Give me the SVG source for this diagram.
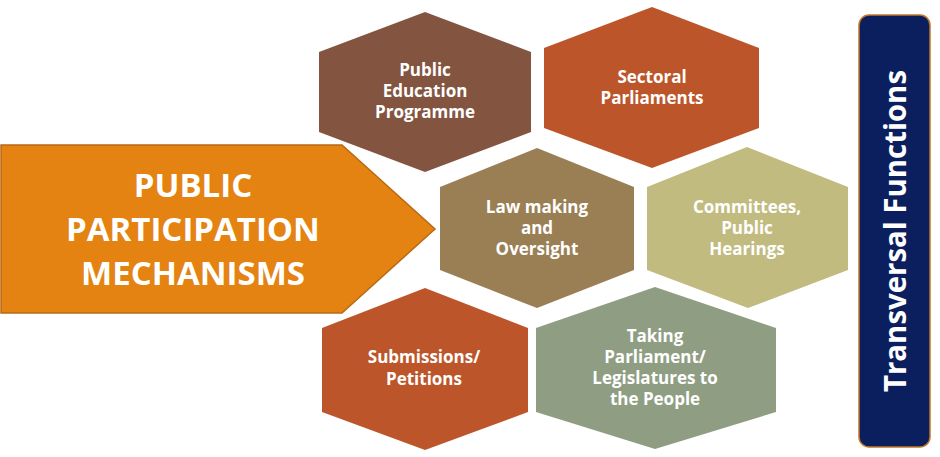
<svg xmlns="http://www.w3.org/2000/svg" width="940" height="457" viewBox="0 0 940 457">
<style>
.hex{stroke:none}
.lbl{font-family:"Open Sans","Noto Sans","Liberation Sans",sans-serif;font-weight:700;font-size:17px;fill:#ffffff;text-anchor:middle}
.big{font-family:"Open Sans","Noto Sans","Liberation Sans",sans-serif;font-weight:700;font-size:33px;fill:#ffffff;text-anchor:middle}
</style>
<rect width="940" height="457" fill="#ffffff"/>
<g id="connectors"></g>
<g id="arrow-public-participation">
<polygon points="1,145 342,145 435,229 342,313 1,313" fill="#E48312" stroke="#B86A14" stroke-width="1.5"/>
<text class="big" x="193" y="197">PUBLIC</text>
<text class="big" x="193" y="241">PARTICIPATION</text>
<text class="big" x="193" y="285">MECHANISMS</text>
</g>
<g id="node-public-education">
<polygon class="hex" points="425,12 531,52 531,132 425,172 319,132 319,52" fill="#835440"/>
<text class="lbl" x="425" y="76">Public</text>
<text class="lbl" x="425" y="97">Education</text>
<text class="lbl" x="425" y="118">Programme</text>
</g>
<g id="node-sectoral-parliaments">
<polygon class="hex" points="652,7 759,48 759,128 652,168 544,128 544,48" fill="#BC562A"/>
<text class="lbl" x="652" y="83">Sectoral</text>
<text class="lbl" x="652" y="104">Parliaments</text>
</g>
<g id="node-law-making">
<polygon class="hex" points="537,148 634,187 634,270 537,308 440,270 440,187" fill="#9A7F55"/>
<text class="lbl" x="537" y="213">Law making</text>
<text class="lbl" x="537" y="234">and</text>
<text class="lbl" x="537" y="255">Oversight</text>
</g>
<g id="node-committees">
<polygon class="hex" points="747,147 848,187 848,270 748,308 647,270 647,187" fill="#C2BB80"/>
<text class="lbl" x="747" y="213">Committees,</text>
<text class="lbl" x="747" y="234">Public</text>
<text class="lbl" x="747" y="255">Hearings</text>
</g>
<g id="node-submissions">
<polygon class="hex" points="425,288 528,328 528,412 425,450 322,412 322,328" fill="#BC562A"/>
<text class="lbl" x="424" y="363">Submissions/</text>
<text class="lbl" x="424" y="385">Petitions</text>
</g>
<g id="node-taking-parliament">
<polygon class="hex" points="655,287 776,328 776,412 655,449 536,412 536,328" fill="#8F9E82"/>
<text class="lbl" x="655" y="342">Taking</text>
<text class="lbl" x="655" y="363">Parliament/</text>
<text class="lbl" x="655" y="384">Legislatures to</text>
<text class="lbl" x="655" y="405">the People</text>
</g>
<g id="node-transversal-functions">
<rect x="859" y="15" width="71" height="432" rx="10" ry="10" fill="#0B1F5E" stroke="#C0772A" stroke-width="1.5"/>
<text class="big" transform="translate(906,231) rotate(-90)" style="font-size:31px" textLength="322" lengthAdjust="spacingAndGlyphs" x="0" y="0">Transversal Functions</text>
</g>
</svg>
